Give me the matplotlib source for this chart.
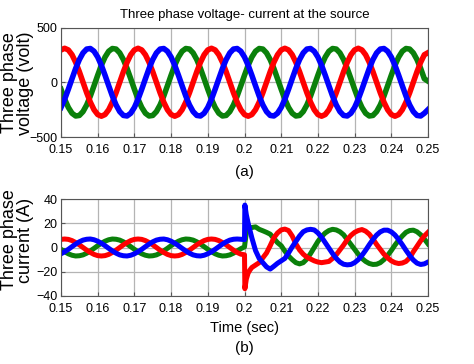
import numpy as np
import matplotlib
matplotlib.use("Agg")
import matplotlib.pyplot as plt

plt.rcParams["font.family"] = ["Liberation Sans", "DejaVu Sans"]

# sample times (s): voltage every 1 ms, current with extra points at the step
t_volt = np.round(np.arange(150, 251) * 0.001, 4)
t_cur = np.round(np.concatenate([np.arange(150, 201) * 0.001,
                                 [0.2001, 0.2005, 0.2010, 0.2015],
                                 np.arange(202, 251) * 0.001]), 4)

# source voltages (V)
v_red = [295, 310, 295, 251, 182, 96, 0, -96, -182, -251, -295, -310, -295, -251, -182, -96, 0, 96, 182, 251,
         295, 310, 295, 251, 182, 96, 0, -96, -182, -251, -295, -310, -295, -251, -182, -96, 0, 96, 182, 251,
         295, 310, 295, 251, 182, 96, 0, -96, -182, -251, -295, -310, -295, -251, -182, -96, 0, 96, 182, 251,
         295, 310, 295, 251, 182, 96, 0, -96, -182, -251, -295, -310, -295, -251, -182, -96, 0, 96, 182, 251,
         295, 310, 295, 251, 182, 96, 0, -96, -182, -251, -295, -310, -295, -251, -182, -96, 0, 96, 182, 251,
         270]
v_blue = [-230, -155, -64, 32, 126, 207, 268, 303, 308, 283, 230, 155, 64, -32, -126, -207, -268, -303, -308, -283,
          -230, -155, -64, 32, 126, 207, 268, 303, 308, 283, 230, 155, 64, -32, -126, -207, -268, -303, -308, -283,
          -230, -155, -64, 32, 126, 207, 268, 303, 308, 283, 230, 155, 64, -32, -126, -207, -268, -303, -308, -283,
          -230, -155, -64, 32, 126, 207, 268, 303, 308, 283, 230, 155, 64, -32, -126, -207, -268, -303, -308, -283,
          -230, -155, -64, 32, 126, 207, 268, 303, 308, 283, 230, 155, 64, -32, -126, -207, -268, -303, -308, -283,
          -250]
v_green = [-64, -155, -230, -283, -308, -303, -268, -207, -126, -32, 64, 155, 230, 283, 308, 303, 268, 207, 126, 32,
           -64, -155, -230, -283, -308, -303, -268, -207, -126, -32, 64, 155, 230, 283, 308, 303, 268, 207, 126, 32,
           -64, -155, -230, -283, -308, -303, -268, -207, -126, -32, 64, 155, 230, 283, 308, 303, 268, 207, 126, 32,
           -64, -155, -230, -283, -308, -303, -268, -207, -126, -32, 64, 155, 230, 283, 308, 303, 268, 207, 126, 32,
           -64, -155, -230, -283, -308, -303, -268, -207, -126, -32, 64, 155, 230, 283, 308, 303, 268, 207, 126, 32,
           10]

# source currents (A)
i_red = [6.7, 7, 6.7, 5.7, 4.1, 2.2, 0, -2.2, -4.1, -5.7, -6.7, -7, -6.7, -5.7, -4.1, -2.2, 0, 2.2, 4.1, 5.7,
         6.7, 7, 6.7, 5.7, 4.1, 2.2, 0, -2.2, -4.1, -5.7, -6.7, -7, -6.7, -5.7, -4.1, -2.2, 0, 2.2, 4.1, 5.7,
         6.7, 7, 6.7, 5.7, 4.1, 2.2, 0, -2.2, -4.1, -5.5, -6,
         -34, -26, -21, -18.5,
         -16.5, -14.5, -12.5, -8.5, -4.5, 1.5, 8, 12, 14.5, 15.2, 14, 9.5, 3, -2, -5.5, -8, -9.5, -11, -12, -12.5,
         -12, -11.5, -9, -6, -2, 2, 6.5, 10, 12.5, 14, 14.8, 13.5, 11, 7, 2.5, -1.5, -5.5, -8.5, -11, -12.5,
         -13.2, -12.8, -11.5, -8.5, -3.5, 1, 5.5, 9.5, 12.5]
i_blue = [-5.2, -3.5, -1.5, 0.7, 2.8, 4.7, 6.1, 6.8, 7.0, 6.4, 5.2, 3.5, 1.5, -0.7, -2.8, -4.7, -6.1, -6.8, -7.0, -6.4,
          -5.2, -3.5, -1.5, 0.7, 2.8, 4.7, 6.1, 6.8, 7.0, 6.4, 5.2, 3.5, 1.5, -0.7, -2.8, -4.7, -6.1, -6.8, -7.0, -6.4,
          -5.2, -3.5, -1.5, 0.7, 2.8, 4.7, 6.1, 6.8, 7.0, 6.8, 6.5,
          35, 27, 20, 14,
          8, -2.5, -9, -12.5, -16, -17.8, -15.5, -13, -11, -9, -4.5, 0.5, 5, 9.5, 13, 14.5, 15, 14.5, 12, 8.5,
          4, -0.5, -5, -9, -12, -13.8, -14.3, -14, -12.5, -10, -6.5, -2.3, 2.3, 6.6, 10.3, 12.9, 14.3, 14.3, 12.9, 10.3,
          6.6, 2.3, -2.3, -6.6, -10.3, -12.9, -14, -13.5, -12]
i_green = [-1.5, -3.5, -5.2, -6.4, -7.0, -6.8, -6.1, -4.7, -2.8, -0.7, 1.5, 3.5, 5.2, 6.4, 7.0, 6.8, 6.1, 4.7, 2.8, 0.7,
           -1.5, -3.5, -5.2, -6.4, -7.0, -6.8, -6.1, -4.7, -2.8, -0.7, 1.5, 3.5, 5.2, 6.4, 7.0, 6.8, 6.1, 4.7, 2.8, 0.7,
           -1.5, -3.5, -5.2, -6.4, -7.0, -6.8, -6.1, -4.7, -2.8, -1.0, 0.5,
           3, 12, 15, 16,
           16.5, 17, 15, 13.8, 12.5, 11, 7.5, 4, 1.5, -3, -7, -10, -12.5, -13.5, -12.5, -9.5, -5, 0, 5, 9,
           12, 14, 15, 14.5, 13, 10.5, 6.5, 2.5, -1.5, -5.5, -9, -11.5, -13.2, -14, -13.8, -12.5, -10, -6.5, -2.5, 2,
           6, 9.5, 12.5, 14, 14.3, 13, 10.5, 7, 3]

xticks = [0.15, 0.16, 0.17, 0.18, 0.19, 0.2, 0.21, 0.22, 0.23, 0.24, 0.25]
xticklabels = ["0.15", "0.16", "0.17", "0.18", "0.19", "0.2", "0.21", "0.22", "0.23", "0.24", "0.25"]

colors = {"red": "#ff0000", "green": "#0a800a", "blue": "#0000ff"}

W, H = 474, 364
fig = plt.figure(figsize=(W / 100, H / 100), dpi=100)
ax1 = fig.add_axes([61 / W, 1 - 137 / H, 367 / W, 109.5 / H])
ax2 = fig.add_axes([61 / W, 1 - 296 / H, 367 / W, 97 / H])


def style(ax, yticks):
    ax.set_xlim(0.15, 0.25)
    ax.set_xticks(xticks)
    ax.set_xticklabels(xticklabels)
    ax.set_yticks(yticks)
    ax.set_ylim(yticks[0], yticks[-1])
    ax.grid(True, color="#b4b4b4", linewidth=0.9)
    ax.set_axisbelow(True)
    ax.tick_params(direction="in", length=3, labelsize=9, color="#555555")
    ax.tick_params(axis="x", pad=5.2)
    ax.tick_params(axis="y", pad=2.5)
    for s in ax.spines.values():
        s.set_color("#555555")
        s.set_linewidth(0.8)


ax1.plot(t_volt, v_green, color=colors["green"], lw=4)
ax1.plot(t_volt, v_red, color=colors["red"], lw=4)
ax1.plot(t_volt, v_blue, color=colors["blue"], lw=4)
style(ax1, [-500, 0, 500])

ax2.plot(t_cur, i_green, color=colors["green"], lw=3.6)
ax2.plot(t_cur, i_red, color=colors["red"], lw=3.6)
ax2.plot(t_cur, i_blue, color=colors["blue"], lw=3.6)
style(ax2, [-40, -20, 0, 20, 40])

lab = dict(size=13, rotation=90, ha="center", va="center", multialignment="center", linespacing=0.85)
fig.text(17.5 / W, 1 - 83 / H, "Three phase\nvoltage (volt)", **lab)
fig.text(17.5 / W, 1 - 240 / H, "Three phase\ncurrent (A)", **lab)

fig.text(244.5 / W, 1 - 15 / H, "Three phase voltage- current at the source", size=9.5, ha="center", va="center")
fig.text(244.5 / W, 1 - 172 / H, "(a)", size=11, ha="center", va="center")
fig.text(244.5 / W, 1 - 328 / H, "Time (sec)", size=10.5, ha="center", va="center")
fig.text(244.5 / W, 1 - 348 / H, "(b)", size=11, ha="center", va="center")

fig.savefig("out.png", dpi=100)
plt.close(fig)
